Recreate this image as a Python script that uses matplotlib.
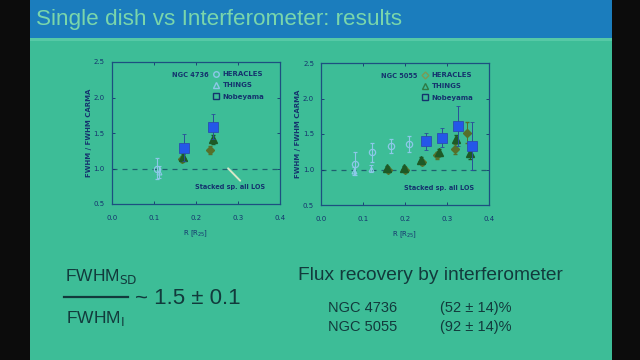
import matplotlib
matplotlib.use("Agg")
import matplotlib.pyplot as plt
from matplotlib.lines import Line2D
from matplotlib.patches import Rectangle

# ---------------- data ----------------
# NGC 4736
n4736_open_her_x = [0.108]
n4736_open_her_y = [1.00]
n4736_open_her_e = [0.15]
n4736_open_thi_x = [0.112]
n4736_open_thi_y = [0.95]
n4736_open_thi_e = [0.08]
n4736_nob_x = [0.173, 0.240]
n4736_nob_y = [1.29, 1.59]
n4736_nob_e = [0.19, 0.18]
n4736_thi_x = [0.170, 0.240]
n4736_thi_y = [1.16, 1.41]
n4736_thi_e = [0.05, 0.06]
n4736_her_x = [0.167, 0.234]
n4736_her_y = [1.13, 1.26]
n4736_her_e = [0.04, 0.05]

# NGC 5055
n5055_open_her_x = [0.082, 0.122, 0.166, 0.209]
n5055_open_her_y = [1.08, 1.24, 1.33, 1.36]
n5055_open_her_e = [0.16, 0.13, 0.10, 0.11]
n5055_open_thi_x = [0.078, 0.120]
n5055_open_thi_y = [0.98, 1.01]
n5055_open_thi_e = [0.06, 0.05]
n5055_nob_x = [0.249, 0.288, 0.325, 0.359]
n5055_nob_y = [1.40, 1.45, 1.61, 1.33]
n5055_nob_e = [0.12, 0.13, 0.28, 0.34]
n5055_thi_x = [0.158, 0.197, 0.239, 0.280, 0.322, 0.355]
n5055_thi_y = [1.02, 1.02, 1.14, 1.24, 1.43, 1.23]
n5055_thi_e = [0.03, 0.03, 0.04, 0.05, 0.06, 0.08]
n5055_her_x = [0.160, 0.200, 0.241, 0.277, 0.320, 0.347]
n5055_her_y = [1.00, 1.00, 1.10, 1.20, 1.29, 1.52]
n5055_her_e = [0.03, 0.03, 0.04, 0.05, 0.07, 0.15]

x_ticks = [0.0, 0.1, 0.2, 0.3, 0.4]
y_ticks = [0.5, 1.0, 1.5, 2.0, 2.5]
series_labels = ["HERACLES", "THINGS", "Nobeyama"]
galaxy_names = ["NGC 4736", "NGC 5055"]
flux_recovery = ["(52 \u00b1 14)%", "(92 \u00b1 14)%"]

# ---------------- style ----------------
BG = "#3dbd97"
BAR = "#1b7dbd"
TITLE_C = "#7ad6ab"
NAVY = "#15336e"
AXC = "#1d4f80"
DARK = "#123a3c"
C_NOB = "#2458e8"
C_THI = "#1d5a26"
C_HER = "#56702a"
C_OPEN = "#8cc8e8"
SLIDE_FONT = ["Liberation Sans Narrow", "Liberation Sans", "DejaVu Sans"]

fig = plt.figure(figsize=(6.4, 3.6), dpi=100, facecolor="#0c0c0c")
# slide background and title bar
fig.add_artist(Rectangle((30 / 640, 0), 582 / 640, 1, transform=fig.transFigure,
                         facecolor=BG, edgecolor="none", zorder=0))
fig.add_artist(Rectangle((30 / 640, 1 - 38 / 360), 582 / 640, 38 / 360,
                         transform=fig.transFigure, facecolor=BAR,
                         edgecolor="none", zorder=1))
fig.add_artist(Rectangle((30 / 640, 1 - 41 / 360), 582 / 640, 3 / 360,
                         transform=fig.transFigure, facecolor="#56c9a6",
                         edgecolor="none", zorder=1))
fig.text(36 / 640, 1 - 19 / 360, "Single dish vs Interferometer: results",
         color=TITLE_C, fontsize=16.2, family=SLIDE_FONT, va="center", ha="left")


def panel(rect, name, open_her, open_thi, nob, thi, her, legend_open):
    ax = fig.add_axes(rect)
    ax.set_facecolor("none")
    ax.set_xlim(0.0, 0.4)
    ax.set_ylim(0.5, 2.5)
    ax.set_xticks(x_ticks)
    ax.set_yticks(y_ticks)
    ax.set_xticklabels([f"{v:.1f}" for v in x_ticks])
    ax.set_yticklabels([f"{v:.1f}" for v in y_ticks])
    for s in ax.spines.values():
        s.set_color(AXC)
        s.set_linewidth(0.9)
    ax.tick_params(colors=NAVY, labelsize=5, direction="in", length=2.5,
                   width=0.6, top=True, right=True)
    ax.tick_params(axis="x", pad=8)
    ax.tick_params(axis="y", pad=5)
    ax.set_xlabel(r"R [R$_{25}$]", fontsize=5, color=NAVY, labelpad=5)
    ax.set_ylabel("FWHM / FWHM CARMA", fontsize=5, color=NAVY,
                  labelpad=1, fontweight="bold")
    ax.axhline(1.0, color="#1f6070", lw=0.9, ls=(0, (4, 4)), zorder=1)

    ox, oy, oe = open_her
    ax.errorbar(ox, oy, yerr=oe, fmt="o", ms=4.5, mfc="none", mec=C_OPEN,
                mew=0.9, ecolor=C_OPEN, elinewidth=0.8, capsize=1.5, zorder=3)
    tx, ty, te = open_thi
    ax.errorbar(tx, ty, yerr=te, fmt="^", ms=3.5, mfc="none", mec=C_OPEN,
                mew=0.8, ecolor=C_OPEN, elinewidth=0.8, capsize=1.5, zorder=3)
    hx, hy, he = her
    ax.errorbar(hx, hy, yerr=he, fmt="D", ms=4.5, mfc=C_HER, mec=C_HER,
                ecolor=C_HER, elinewidth=0.7, capsize=1.2, zorder=4)
    thx, thy, the = thi
    ax.errorbar(thx, thy, yerr=the, fmt="^", ms=5.5, mfc=C_THI, mec=C_THI,
                ecolor=C_THI, elinewidth=0.7, capsize=1.2, zorder=5)
    nx, ny, ne = nob
    ax.errorbar(nx, ny, yerr=ne, fmt="s", ms=6.5, mfc=C_NOB, mec="#2a4fb0",
                mew=0.6, ecolor="#2a4f9a", elinewidth=0.7, capsize=1.5, zorder=6)

    if legend_open:
        handles = [Line2D([], [], marker="o", ls="none", mfc="none", mec=C_OPEN, ms=4),
                   Line2D([], [], marker="^", ls="none", mfc="none", mec=C_OPEN, ms=4),
                   Line2D([], [], marker="s", ls="none", mfc="none", mec=NAVY, ms=4)]
    else:
        handles = [Line2D([], [], marker="D", ls="none", mfc="none", mec="#7c9a55", ms=3.5),
                   Line2D([], [], marker="^", ls="none", mfc="none", mec="#2d7a45", ms=4),
                   Line2D([], [], marker="s", ls="none", mfc="none", mec=NAVY, ms=4)]
    leg = ax.legend(handles, series_labels, loc="upper left",
                    bbox_to_anchor=(0.60, 0.935), frameon=False, fontsize=5,
                    handletextpad=0.45, labelspacing=0.75, borderaxespad=0,
                    handlelength=1.0, borderpad=0)
    for t in leg.get_texts():
        t.set_color(NAVY)
        t.set_fontweight("bold")
    ax.text(0.575, 0.905, name, transform=ax.transAxes, fontsize=4.8,
            color=NAVY, ha="right", va="center", fontweight="bold")
    ax.text(0.91, 0.12, "Stacked sp. all LOS", transform=ax.transAxes,
            fontsize=4.7, color=NAVY, ha="right", va="center", fontweight="bold")
    return ax


ax1 = panel([111.7 / 640, 1 - 204 / 360, 168.3 / 640, 142 / 360], galaxy_names[0],
            (n4736_open_her_x, n4736_open_her_y, n4736_open_her_e),
            (n4736_open_thi_x, n4736_open_thi_y, n4736_open_thi_e),
            (n4736_nob_x, n4736_nob_y, n4736_nob_e),
            (n4736_thi_x, n4736_thi_y, n4736_thi_e),
            (n4736_her_x, n4736_her_y, n4736_her_e), True)
# light pointer stroke seen on the slide
ax1.annotate("", xy=(0.272, 1.03), xytext=(0.31, 0.80),
             arrowprops=dict(arrowstyle="-", color="#d8e8c8", lw=1.4))

ax2 = panel([321 / 640, 1 - 205 / 360, 168 / 640, 142 / 360], galaxy_names[1],
            (n5055_open_her_x, n5055_open_her_y, n5055_open_her_e),
            (n5055_open_thi_x, n5055_open_thi_y, n5055_open_thi_e),
            (n5055_nob_x, n5055_nob_y, n5055_nob_e),
            (n5055_thi_x, n5055_thi_y, n5055_thi_e),
            (n5055_her_x, n5055_her_y, n5055_her_e), False)

# ---------------- bottom text ----------------
fig.text(65 / 640, 1 - 276 / 360, r"FWHM$_{\mathrm{SD}}$", color=DARK,
         fontsize=12.5, family=SLIDE_FONT, ha="left", va="center")
fig.add_artist(Line2D([64 / 640, 128 / 640], [1 - 297 / 360, 1 - 297 / 360],
                      transform=fig.transFigure, color=DARK, lw=1.6))
fig.text(66 / 640, 1 - 318 / 360, r"FWHM$_{\mathrm{I}}$", color=DARK,
         fontsize=12.5, family=SLIDE_FONT, ha="left", va="center")
fig.text(135 / 640, 1 - 298 / 360, "~ 1.5 \u00b1 0.1", color=DARK,
         fontsize=16, family=SLIDE_FONT, ha="left", va="center")

fig.text(298 / 640, 1 - 276 / 360, "Flux recovery by interferometer", color=DARK,
         fontsize=13.8, family=SLIDE_FONT, ha="left", va="center")
for i, (g, f) in enumerate(zip(galaxy_names, flux_recovery)):
    yy = 1 - (308 + 19 * i) / 360
    fig.text(328 / 640, yy, g, color=DARK, fontsize=10.5,
             family=SLIDE_FONT, ha="left", va="center")
    fig.text(440 / 640, yy, f, color=DARK, fontsize=10.5,
             family=SLIDE_FONT, ha="left", va="center")

fig.savefig("out.png", dpi=100, facecolor=fig.get_facecolor())
